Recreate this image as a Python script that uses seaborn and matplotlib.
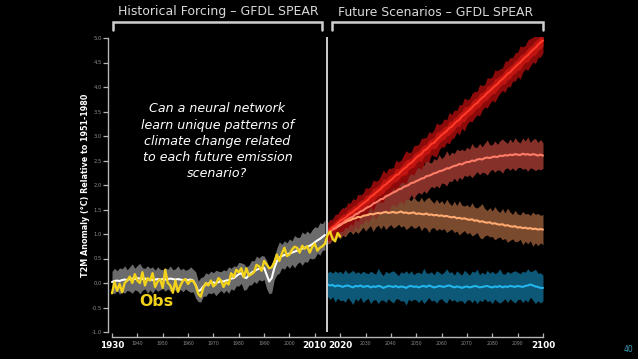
import numpy as np
import pandas as pd
import matplotlib
matplotlib.use("Agg")
import matplotlib.pyplot as plt
import seaborn as sns
from matplotlib.lines import Line2D

# ---------------- data ----------------
hist_years = list(range(1930, 2015))
hist_mean = [
    0.02, 0.04, 0.05, 0.04, 0.06, 0.07, 0.06, 0.08, 0.09, 0.08,
    0.10, 0.09, 0.08, 0.09, 0.07, 0.08, 0.06, 0.07, 0.08, 0.07,
    0.08, 0.07, 0.08, 0.09, 0.08, 0.07, 0.08, 0.07, 0.06, 0.07,
    0.06, 0.07, 0.05, -0.04, -0.17, -0.14, -0.07, -0.03, -0.01, 0.01,
    0.01, 0.00, 0.02, 0.04, 0.03, 0.05, 0.06, 0.09, 0.10, 0.14,
    0.18, 0.20, 0.12, 0.10, 0.16, 0.21, 0.24, 0.27, 0.29, 0.30,
    0.31, 0.17, 0.03, 0.10, 0.30, 0.44, 0.52, 0.55, 0.57, 0.59,
    0.60, 0.62, 0.64, 0.66, 0.68, 0.70, 0.72, 0.74, 0.76, 0.79,
    0.83, 0.87, 0.90, 0.94, 0.98]
hist_spread = [
    0.22, 0.26, 0.20, 0.27, 0.23, 0.28, 0.21, 0.25, 0.30, 0.22,
    0.26, 0.31, 0.23, 0.21, 0.28, 0.22, 0.27, 0.19, 0.25, 0.21,
    0.19, 0.24, 0.20, 0.26, 0.19, 0.22, 0.27, 0.20, 0.24, 0.19,
    0.22, 0.26, 0.23, 0.27, 0.21, 0.25, 0.20, 0.24, 0.19, 0.23,
    0.20, 0.26, 0.22, 0.19, 0.24, 0.20, 0.27, 0.21, 0.25, 0.20,
    0.24, 0.21, 0.27, 0.23, 0.20, 0.25, 0.21, 0.28, 0.22, 0.26,
    0.24, 0.29, 0.25, 0.30, 0.23, 0.27, 0.32, 0.24, 0.29, 0.23,
    0.30, 0.24, 0.33, 0.27, 0.25, 0.34, 0.28, 0.32, 0.25, 0.30,
    0.32, 0.26, 0.33, 0.27, 0.31]

obs_years = list(range(1930, 2021))
obs = [
    -0.21, 0.02, -0.16, -0.02, -0.19, 0.00, 0.05, 0.13, 0.00, 0.18,
    0.05, 0.00, 0.22, -0.05, 0.10, 0.05, 0.20, -0.08, 0.03, 0.08,
    -0.10, 0.27, 0.00, -0.05, -0.20, 0.05, -0.18, -0.05, 0.05, 0.08,
    -0.02, 0.05, 0.04, -0.05, -0.22, -0.28, -0.10, 0.00, -0.05, 0.05,
    -0.07, -0.02, 0.10, 0.05, -0.08, 0.02, -0.03, 0.20, 0.12, 0.27,
    0.22, 0.30, 0.12, 0.30, 0.15, 0.18, 0.22, 0.37, 0.34, 0.25,
    0.45, 0.38, 0.30, 0.32, 0.42, 0.58, 0.45, 0.60, 0.72, 0.55,
    0.58, 0.68, 0.74, 0.72, 0.62, 0.76, 0.70, 0.75, 0.62, 0.74,
    0.80, 0.66, 0.72, 0.75, 0.80, 0.98, 1.05, 0.90, 0.85, 1.02,
    0.95]

fut_years = list(range(2015, 2101))
red_mean = [
    1.05, 1.08, 1.14, 1.17, 1.22, 1.27,
    1.30, 1.33, 1.38, 1.42, 1.45, 1.50, 1.53, 1.58, 1.62, 1.66,
    1.70, 1.76, 1.79, 1.84, 1.88, 1.92, 1.98, 2.01, 2.06, 2.10,
    2.15, 2.20, 2.22, 2.28, 2.33, 2.36, 2.42, 2.45, 2.50, 2.56,
    2.60, 2.63, 2.70, 2.73, 2.78, 2.84, 2.86, 2.92, 2.97, 3.02,
    3.06, 3.10, 3.16, 3.19, 3.25, 3.30, 3.33, 3.40, 3.44, 3.49,
    3.53, 3.58, 3.64, 3.67, 3.73, 3.78, 3.82, 3.88, 3.92, 3.97,
    4.02, 4.06, 4.12, 4.16, 4.21, 4.27, 4.30, 4.36, 4.41, 4.46,
    4.50, 4.56, 4.61, 4.65, 4.71, 4.76, 4.80, 4.86, 4.91, 4.95]
red_spread = [
    0.18, 0.21, 0.16, 0.23, 0.19, 0.22,
    0.24, 0.19, 0.26, 0.21, 0.27, 0.20, 0.28, 0.22, 0.21, 0.29,
    0.23, 0.21, 0.31, 0.24, 0.22, 0.27, 0.33, 0.23, 0.28, 0.24,
    0.21, 0.31, 0.25, 0.23, 0.28, 0.34, 0.24, 0.22, 0.30, 0.25,
    0.23, 0.32, 0.26, 0.24, 0.31, 0.22, 0.27, 0.35, 0.26, 0.24,
    0.29, 0.23, 0.32, 0.25, 0.28, 0.22, 0.31, 0.24, 0.34, 0.25,
    0.23, 0.29, 0.27, 0.24, 0.32, 0.25, 0.23, 0.31, 0.26, 0.24,
    0.33, 0.27, 0.25, 0.23, 0.32, 0.26, 0.30, 0.24, 0.29, 0.25,
    0.34, 0.26, 0.24, 0.31, 0.28, 0.25, 0.32, 0.26, 0.30, 0.25]
salmon_mean = [
    1.02, 1.06, 1.10, 1.12, 1.17, 1.20,
    1.22, 1.27, 1.30, 1.33, 1.35, 1.40, 1.42, 1.46, 1.48, 1.52,
    1.55, 1.57, 1.62, 1.64, 1.67, 1.71, 1.72, 1.77, 1.79, 1.82,
    1.85, 1.87, 1.91, 1.92, 1.96, 1.98, 2.00, 2.04, 2.05, 2.08,
    2.10, 2.13, 2.14, 2.18, 2.19, 2.21, 2.24, 2.25, 2.28, 2.29,
    2.31, 2.34, 2.34, 2.37, 2.39, 2.40, 2.43, 2.42, 2.45, 2.47,
    2.47, 2.50, 2.49, 2.52, 2.53, 2.52, 2.55, 2.56, 2.55, 2.57,
    2.58, 2.57, 2.60, 2.59, 2.61, 2.60, 2.62, 2.61, 2.63, 2.62,
    2.61, 2.64, 2.62, 2.63, 2.61, 2.63, 2.62, 2.60, 2.62, 2.60]
salmon_spread = [
    0.20, 0.23, 0.18, 0.25, 0.21, 0.27,
    0.23, 0.29, 0.21, 0.27, 0.30, 0.23, 0.33, 0.24, 0.28, 0.22,
    0.31, 0.25, 0.23, 0.34, 0.27, 0.24, 0.31, 0.25, 0.35, 0.26,
    0.24, 0.32, 0.28, 0.25, 0.36, 0.26, 0.30, 0.24, 0.33, 0.28,
    0.25, 0.32, 0.26, 0.35, 0.28, 0.24, 0.30, 0.26, 0.34, 0.25,
    0.28, 0.36, 0.26, 0.30, 0.25, 0.33, 0.27, 0.31, 0.25, 0.30,
    0.26, 0.35, 0.28, 0.25, 0.32, 0.26, 0.30, 0.36, 0.27, 0.25,
    0.32, 0.26, 0.30, 0.35, 0.28, 0.25, 0.32, 0.26, 0.34, 0.27,
    0.25, 0.32, 0.28, 0.35, 0.26, 0.30, 0.33, 0.27, 0.31, 0.26]
orange_mean = [
    1.00, 1.05, 1.10, 1.12, 1.15, 1.18,
    1.22, 1.24, 1.27, 1.28, 1.31, 1.32, 1.35, 1.34, 1.37, 1.38,
    1.39, 1.41, 1.40, 1.42, 1.43, 1.42, 1.44, 1.45, 1.43, 1.44,
    1.45, 1.43, 1.44, 1.46, 1.43, 1.44, 1.42, 1.43, 1.44, 1.41,
    1.42, 1.41, 1.40, 1.42, 1.39, 1.40, 1.38, 1.39, 1.37, 1.38,
    1.36, 1.37, 1.35, 1.34, 1.35, 1.32, 1.33, 1.31, 1.32, 1.30,
    1.29, 1.30, 1.27, 1.28, 1.25, 1.26, 1.24, 1.23, 1.24, 1.21,
    1.22, 1.20, 1.19, 1.20, 1.17, 1.18, 1.16, 1.15, 1.16, 1.13,
    1.14, 1.12, 1.13, 1.11, 1.12, 1.10, 1.11, 1.09, 1.10, 1.09]
orange_spread = [
    0.20, 0.24, 0.20, 0.26, 0.21, 0.28,
    0.24, 0.30, 0.25, 0.22, 0.32, 0.26, 0.34, 0.27, 0.23, 0.32,
    0.27, 0.24, 0.35, 0.28, 0.25, 0.32, 0.26, 0.36, 0.28, 0.25,
    0.33, 0.28, 0.24, 0.32, 0.26, 0.35, 0.29, 0.25, 0.32, 0.28,
    0.24, 0.34, 0.26, 0.30, 0.36, 0.28, 0.25, 0.32, 0.26, 0.30,
    0.25, 0.34, 0.28, 0.24, 0.32, 0.26, 0.35, 0.28, 0.25, 0.30,
    0.26, 0.34, 0.28, 0.25, 0.32, 0.36, 0.28, 0.25, 0.30, 0.26,
    0.34, 0.28, 0.25, 0.32, 0.26, 0.35, 0.29, 0.25, 0.32, 0.28,
    0.25, 0.34, 0.28, 0.31, 0.26, 0.35, 0.29, 0.33, 0.28, 0.31]
blue_mean = [
    -0.03, -0.05, -0.04, -0.07, -0.05, -0.06,
    -0.08, -0.06, -0.05, -0.07, -0.09, -0.06, -0.07, -0.05, -0.08, -0.07,
    -0.06, -0.09, -0.07, -0.08, -0.06, -0.07, -0.10, -0.08, -0.06, -0.07,
    -0.08, -0.06, -0.09, -0.07, -0.08, -0.10, -0.07, -0.06, -0.08, -0.07,
    -0.09, -0.07, -0.06, -0.08, -0.05, -0.07, -0.09, -0.08, -0.06, -0.07,
    -0.08, -0.06, -0.05, -0.07, -0.09, -0.07, -0.08, -0.10, -0.08, -0.07,
    -0.09, -0.08, -0.06, -0.07, -0.09, -0.08, -0.07, -0.06, -0.08, -0.09,
    -0.07, -0.08, -0.06, -0.09, -0.07, -0.08, -0.06, -0.07, -0.08, -0.06,
    -0.07, -0.08, -0.06, -0.05, -0.03, -0.05, -0.07, -0.08, -0.10, -0.10]
blue_spread = [
    0.24, 0.29, 0.24, 0.32, 0.26, 0.30,
    0.27, 0.33, 0.25, 0.29, 0.35, 0.26, 0.30, 0.24, 0.32, 0.28,
    0.25, 0.33, 0.28, 0.26, 0.36, 0.28, 0.25, 0.32, 0.26, 0.30,
    0.33, 0.26, 0.24, 0.30, 0.28, 0.35, 0.26, 0.31, 0.25, 0.28,
    0.31, 0.26, 0.36, 0.28, 0.25, 0.30, 0.26, 0.33, 0.28, 0.25,
    0.30, 0.35, 0.26, 0.30, 0.25, 0.32, 0.28, 0.26, 0.34, 0.28,
    0.25, 0.32, 0.28, 0.35, 0.26, 0.30, 0.25, 0.32, 0.28, 0.33,
    0.26, 0.30, 0.35, 0.28, 0.25, 0.32, 0.26, 0.30, 0.33, 0.28,
    0.26, 0.32, 0.28, 0.34, 0.26, 0.30, 0.35, 0.28, 0.31, 0.26]

x_ticks = list(range(1930, 2101, 10))
x_tick_labels = [str(t) for t in x_ticks]
big_ticks = ["1930", "2010", "2020", "2100"]
y_ticks = [-1.0, -0.5, 0.0, 0.5, 1.0, 1.5, 2.0, 2.5, 3.0, 3.5, 4.0, 4.5, 5.0]
y_tick_labels = [f"{v:.1f}" for v in y_ticks]

title_hist = "Historical Forcing \u2013 GFDL SPEAR"
title_fut = "Future Scenarios \u2013 GFDL SPEAR"
ylabel = "T2M Anomaly (\u00b0C) Relative to 1951-1980"
question = ["Can a neural network", "learn unique patterns of",
            "climate change related", "to each future emission", "scenario?"]
split_year = 2014.8

# ---------------- style ----------------
sns.set_theme(style="ticks")
plt.rcParams["font.family"] = ["DejaVu Sans"]

W, H = 638, 359
fig = plt.figure(figsize=(W / 100, H / 100), dpi=100)
fig.patch.set_facecolor("black")

ppy = (543 - 112) / 170.0
ax = fig.add_axes([108 / W, 1 - 337 / H, 440 / W, 300 / H])
ax.set_facecolor("black")
ax.set_xlim(1930 - 4 / ppy, 1930 + 436 / ppy)
ax.set_ylim(-1.0 - 5 / 49.0, 5.0 + 1 / 49.0)


def band(years, mean, spread, color, z, frac=1.0):
    m = np.array(mean)
    s = np.array(spread) * frac
    ax.fill_between(years, m - s, m + s, color=color, lw=0, zorder=z)


def line(years, vals, color, lw, z):
    df = pd.DataFrame({"year": years, "val": vals})
    sns.lineplot(data=df, x="year", y="val", ax=ax, color=color, lw=lw,
                 zorder=z, legend=False)


band(hist_years, hist_mean, hist_spread, "#6b6b6b", 1)
band(fut_years, blue_mean, blue_spread, "#0d5877", 1)
band(fut_years, orange_mean, orange_spread, "#7a4a2f", 1)
band(fut_years, salmon_mean, salmon_spread, "#86302a", 2)
band(fut_years, red_mean, red_spread, "#8c0a0a", 3)
band(fut_years, red_mean, red_spread, "#c01410", 3.5, frac=0.45)

line(hist_years, hist_mean, "white", 1.5, 5)
line(fut_years, blue_mean, "#22b6ec", 1.5, 5)
line(fut_years, orange_mean, "#ffaa70", 1.5, 5)
line(fut_years, salmon_mean, "#ff7d66", 1.5, 5)
line(fut_years, red_mean, "#ff3a28", 1.5, 5)
line(obs_years, obs, "#f2d21a", 1.7, 7)

ax.vlines(split_year, -1.0, 5.05, color="#cfcfcf", lw=1.4, zorder=6)

ax.set_xlabel("")
ax.set_ylabel("")
for s in ["top", "right"]:
    ax.spines[s].set_visible(False)
for s in ["left", "bottom"]:
    ax.spines[s].set_color("#b5b5b5")
    ax.spines[s].set_linewidth(1.0)
ax.spines["left"].set_bounds(-1.0, 5.0)
ax.spines["bottom"].set_bounds(1930, 2100)

ax.set_xticks(x_ticks)
ax.set_xticklabels(x_tick_labels)
ax.set_yticks(y_ticks)
ax.set_yticklabels(y_tick_labels)
ax.tick_params(axis="x", direction="in", length=3, width=0.9, colors="#b5b5b5", pad=3)
ax.tick_params(axis="y", direction="out", length=3.5, width=0.9, colors="#b5b5b5", pad=1)
for lab in ax.get_xticklabels():
    if lab.get_text() in big_ticks:
        lab.set_fontsize(6.3)
        lab.set_fontweight("bold")
        lab.set_color("white")
    else:
        lab.set_fontsize(3.3)
        lab.set_color("#8c8c8c")
for lab in ax.get_yticklabels():
    lab.set_fontsize(3.8)
    lab.set_color("#8c8c8c")

renderer = fig.canvas.get_renderer()


def fit(t, target, vertical=False):
    bb = t.get_window_extent(renderer=renderer)
    cur = bb.height if vertical else bb.width
    t.set_fontsize(t.get_fontsize() * target / cur)


def fx(px):
    return px / W


def fy(py):
    return 1 - py / H


t1 = fig.text(fx(218), fy(12), title_hist, color="#d9d9d9", fontsize=9,
              ha="center", va="center")
fit(t1, 200)
t2 = fig.text(fx(436), fy(12), title_fut, color="#d9d9d9", fontsize=9,
              ha="center", va="center")
fit(t2, 196)

bc = "#cfcfcf"
for xa, xb in [(113, 322), (332, 543)]:
    fig.add_artist(Line2D([fx(xa), fx(xa), fx(xb), fx(xb)],
                          [fy(30), fy(22), fy(22), fy(30)],
                          color=bc, lw=1.8, solid_joinstyle="miter"))

yl = fig.text(fx(86), fy(185), ylabel, color="white", fontsize=6,
              fontweight="bold", rotation=90, ha="center", va="center")
fit(yl, 184, vertical=True)

q_y = [108, 125, 141, 157, 173]
qs = []
for txt, yy in zip(question, q_y):
    qs.append(fig.text(fx(217.5), fy(yy), txt, color="white", fontsize=9,
                       style="italic", ha="center", va="center"))
fit(qs[1], 152)
for q in qs:
    q.set_fontsize(qs[1].get_fontsize())

ob = fig.text(fx(156), fy(302), "Obs", color="#f2d21a", fontsize=11,
              fontweight="bold", ha="center", va="center")
fit(ob, 34)

fig.text(fx(628), fy(350), "40", color="#3f9fbf", fontsize=5.5,
         ha="center", va="center")

fig.savefig("out.png", dpi=100, facecolor="black")
